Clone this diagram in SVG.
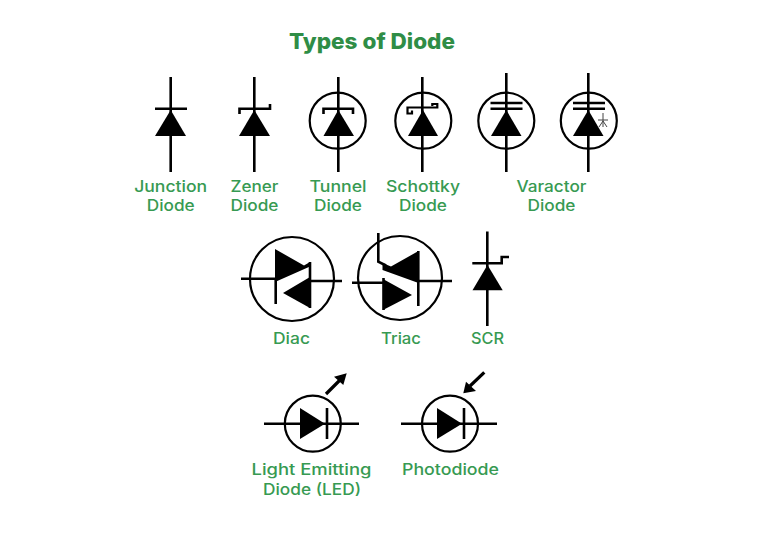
<svg xmlns="http://www.w3.org/2000/svg" width="768" height="543" viewBox="0 0 768 543">
<style>
.l{fill:none;stroke:#000;stroke-width:2.6}
.c{fill:none;stroke:#000;stroke-width:2.2}
.f{fill:#000}
.t{font-family:"Inter","Noto Sans",sans-serif;font-weight:500;font-size:15.500px;fill:#379a52;text-anchor:middle}
</style>
<rect width="768" height="543" fill="#fff"/>
<text id="title" x="372" y="48.500" class="t" style="font-size:21.500px;font-weight:800;fill:#2f8d46" textLength="166" lengthAdjust="spacingAndGlyphs">Types of Diode</text>
<g id="junction"><path class="l" d="M170.700 77V172M155 108.700H187"/><path class="f" d="M170.700 110L186 136H155Z"/><text class="t" x="170.700" y="191.500" textLength="73" lengthAdjust="spacingAndGlyphs">Junction</text><text class="t" x="170.700" y="211" textLength="48" lengthAdjust="spacingAndGlyphs">Diode</text></g>
<g id="zener"><path class="l" d="M254.300 77V172M239.500 114V108.700H270V104"/><path class="f" d="M254.300 110L270 136H239Z"/><text class="t" x="254.500" y="191.500" textLength="48" lengthAdjust="spacingAndGlyphs">Zener</text><text class="t" x="254.500" y="211" textLength="48" lengthAdjust="spacingAndGlyphs">Diode</text></g>
<g id="tunnel"><circle class="c" cx="337.700" cy="120.700" r="28"/><path class="l" d="M338.300 77V172M323.500 114V108.700H353V114"/><path class="f" d="M338.300 110L354 136H323.500Z"/><text class="t" x="338" y="191.500" textLength="57" lengthAdjust="spacingAndGlyphs">Tunnel</text><text class="t" x="338" y="211" textLength="48" lengthAdjust="spacingAndGlyphs">Diode</text></g>
<g id="schottky"><circle class="c" cx="423.300" cy="120.700" r="28"/><path class="l" d="M422.300 77V172"/><path class="c" d="M412 110.500V113.500H407.500V107.500H437.300V104H432.300V106"/><path class="f" d="M423 110L438 136H408Z"/><text class="t" x="423" y="191.500" textLength="74" lengthAdjust="spacingAndGlyphs">Schottky</text><text class="t" x="423" y="211" textLength="48" lengthAdjust="spacingAndGlyphs">Diode</text></g>
<g id="varactor1"><circle class="c" cx="506.300" cy="120.700" r="28"/><path class="l" d="M506.300 73V172M490.500 103H522.500M490.500 108.700H522.500"/><path class="f" d="M506.300 110L521.500 136H491Z"/></g>
<g id="varactor2"><circle class="c" cx="588.800" cy="120.700" r="28"/><path class="l" d="M588.300 73V172M573 103H605M573 108.700H605"/><path class="f" d="M588.300 110L603.500 136H573Z"/><path d="M603 113V127M598 120H608M599 127L603 121L607 127" fill="none" stroke="#444" stroke-width="1"/></g>
<text id="varactor-label" class="t" x="551.500" y="191.500" textLength="70" lengthAdjust="spacingAndGlyphs">Varactor</text>
<text id="varactor-label2" class="t" x="551.500" y="211" textLength="48" lengthAdjust="spacingAndGlyphs">Diode</text>
<g id="diac"><circle class="c" cx="292" cy="279" r="42"/><path class="l" d="M241 278.700H276M275.700 278V304M310 262V308M310 281H342"/><path class="f" d="M275 249L304 265.500L310 262V266.500L275 282Z"/><path class="f" d="M283 293L310 277V308Z"/><text class="t" x="291.500" y="344" textLength="37" lengthAdjust="spacingAndGlyphs">Diac</text></g>
<g id="triac"><circle class="c" cx="400" cy="278" r="42"/><path class="l" d="M378.300 233V261.700L386 265.500M352 282.700H384M418 281H452M418.300 251V306M383.500 278V310"/><path class="f" d="M418.500 251L391 266.500L382.500 263V270L418.500 283Z"/><path class="f" d="M383 279L412 295L383 310Z"/><text class="t" x="401" y="344" textLength="40" lengthAdjust="spacingAndGlyphs">Triac</text></g>
<g id="scr"><path class="l" d="M487.300 231.500V326M472.300 263.300H501.700V257H509"/><path class="f" d="M487.500 265L502.700 290.300H472.500Z"/><text class="t" x="487.500" y="344" textLength="33" lengthAdjust="spacingAndGlyphs">SCR</text></g>
<g id="led"><circle class="c" cx="312.800" cy="423.700" r="28"/><path class="l" d="M264 423.700H359M327 408V439"/><path class="f" d="M300 408L325 423.700L300 439Z"/><path d="M326 394L340 380" fill="none" stroke="#000" stroke-width="3.200"/><path class="f" d="M346.700 373.300L343.300 385L334 376.700Z"/><text class="t" x="311.500" y="475" textLength="120" lengthAdjust="spacingAndGlyphs">Light Emitting</text><text class="t" x="312" y="495" textLength="98" lengthAdjust="spacingAndGlyphs">Diode (LED)</text></g>
<g id="photodiode"><circle class="c" cx="450" cy="423.700" r="28"/><path class="l" d="M401 423.700H497M464 408V439"/><path class="f" d="M437 408L462 423.700L437 439Z"/><path d="M484.300 372.300L470 386" fill="none" stroke="#000" stroke-width="3.200"/><path class="f" d="M463.300 393.300L466 381.700L476 391Z"/><text class="t" x="450.500" y="475" textLength="97" lengthAdjust="spacingAndGlyphs">Photodiode</text></g>
</svg>
